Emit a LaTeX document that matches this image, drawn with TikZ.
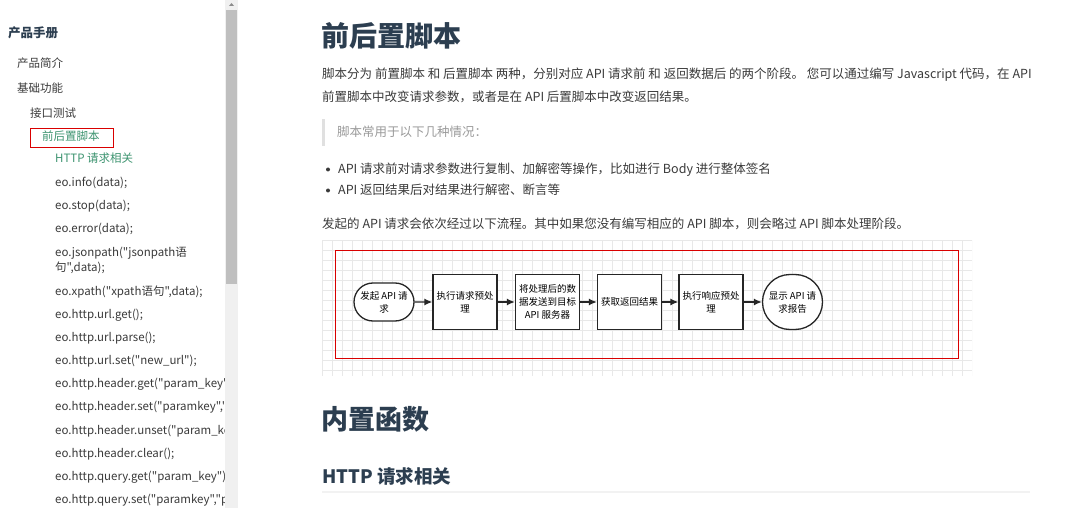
\documentclass[tikz,border=0pt]{standalone}
\usepackage{fontspec}
\setmainfont{Noto Sans CJK SC}[Ligatures=TeXOff]
\XeTeXlinebreaklocale "zh"
\XeTeXlinebreakskip=0pt plus 1pt
\usetikzlibrary{arrows.meta,shapes.misc}
\definecolor{hd}{HTML}{2C3E50}
\definecolor{tx}{HTML}{3A3A3A}
\definecolor{gr}{HTML}{3D9470}
\definecolor{qt}{HTML}{9A9A9A}
\tikzset{
 side/.style={anchor=base west,font=\fontsize{11.5}{13}\selectfont,text=tx,inner sep=0},
 body/.style={anchor=base west,font=\fontsize{12.5}{14}\selectfont,text=tx,inner sep=0},
 stepbox/.style={draw=black!85,line width=1.3pt,minimum width=64pt,minimum height=55pt,align=center,font=\fontsize{9.5}{13}\selectfont,fill=white,inner sep=1pt},
 term/.style={stepbox,rounded rectangle,minimum width=62pt},
 arr/.style={-{Latex[length=8pt,width=7pt]},line width=1.3pt,draw=black!85}
}
\begin{document}
\begin{tikzpicture}[x=1pt,y=-1pt]
\useasboundingbox (0,0) rectangle (1080,508);
\fill[white] (0,0) rectangle (1080,508);
% sidebar
\begin{scope}
\clip (0,0) rectangle (224,508);
\node[anchor=base west,inner sep=0,font=\bfseries\fontsize{12.5}{14}\selectfont,text=hd] (t0) at (8,38) {产品手册};
\node[side] (s1) at (17,68) {产品简介};
\node[side] (s2) at (17,93) {基础功能};
\node[side] (s3) at (30,118) {接口测试};
\node[side,text=gr] (s4) at (42,141) {前后置脚本};
\node[side,text=gr] (s5) at (55,163) {HTTP 请求相关};
\node[side] (e1) at (55,187) {eo.info(data);};
\node[side] (e2) at (55,210) {eo.stop(data);};
\node[side] (e3) at (55,233) {eo.error(data);};
\node[side] (e4) at (55,256) {eo.jsonpath("jsonpath语};
\node[side] (e4b) at (55,272) {句",data);};
\node[side] (e5) at (55,295) {eo.xpath("xpath语句",data);};
\node[side] (e6) at (55,318) {eo.http.url.get();};
\node[side] (e7) at (55,341) {eo.http.url.parse();};
\node[side] (e8) at (55,364) {eo.http.url.set("new\_url");};
\node[side] (e9) at (55,387) {eo.http.header.get("param\_key");};
\node[side] (e10) at (55,410) {eo.http.header.set("paramkey","param\_value");};
\node[side] (e11) at (55,434) {eo.http.header.unset("param\_key");};
\node[side] (e12) at (55,457) {eo.http.header.clear();};
\node[side] (e13) at (55,480) {eo.http.query.get("param\_key");};
\node[side] (e14) at (55,503) {eo.http.query.set("paramkey","param\_value");};
\end{scope}
\draw[red!85!black,line width=0.9pt] (30,128) rectangle (113,147);
% scrollbar
\fill[black!6] (225,0) rectangle (238,508);
\fill[black!25] (226,10) rectangle (237,284);
\fill[black!45] (229,6) -- (234,6) -- (231.5,3) -- cycle;
% main
\node[anchor=base west,inner sep=0,font=\bfseries\fontsize{28}{30}\selectfont,text=hd] (h1) at (321,47) {前后置脚本};
\node[body] (p1) at (322,79) {脚本分为 前置脚本 和 后置脚本 两种，分别对应 API 请求前 和 返回数据后 的两个阶段。 您可以通过编写 Javascript 代码，在 API};
\node[body] (p2) at (322,102) {前置脚本中改变请求参数，或者是在 API 后置脚本中改变返回结果。};
\fill[black!12] (322,119) rectangle (325,146);
\node[body,text=qt] (q) at (337,137) {脚本常用于以下几种情况：};
\fill[tx] (328,169.5) circle (2pt);
\fill[tx] (328,190.5) circle (2pt);
\node[body] (b1) at (338,174) {API 请求前对请求参数进行复制、加解密等操作，比如进行 Body 进行整体签名};
\node[body] (b2) at (338,195) {API 返回结果后对结果进行解密、断言等};
\node[body] (p3) at (322,229) {发起的 API 请求会依次经过以下流程。其中如果您没有编写相应的 API 脚本，则会略过 API 脚本处理阶段。};
% diagram grid
\begin{scope}
\clip (322,240) rectangle (972,376);
\foreach \x in {322,332,...,972} \draw[black!9,line width=0.4pt] (\x,240) -- (\x,376);
\foreach \y in {240,250,...,376} \draw[black!9,line width=0.4pt] (322,\y) -- (972,\y);
\end{scope}
\draw[red!85!black,line width=0.9pt] (335,250) rectangle (958,358);
\node[term,minimum height=38pt] (n1) at (384,302) {发起 API 请\\求};
\node[stepbox] (n2) at (465,302) {执行请求预处\\理};
\node[stepbox] (n3) at (547.5,302) {将处理后的数\\据发送到目标\\API 服务器};
\node[stepbox] (n4) at (629.5,302) {获取返回结果};
\node[stepbox] (n5) at (711,302) {执行响应预处\\理};
\node[term] (n6) at (792.5,302) {显示 API 请\\求报告};
\foreach \a/\b in {n1/n2,n2/n3,n3/n4,n4/n5,n5/n6} \draw[arr] (\a) -- (\b);
% lower headings
\node[anchor=base west,inner sep=0,font=\bfseries\fontsize{27}{30}\selectfont,text=hd] (h2) at (321,429) {内置函数};
\node[anchor=base west,inner sep=0,font=\bfseries\fontsize{18.5}{20}\selectfont,text=hd] (h3) at (322,483) {HTTP 请求相关};
\fill[black!5] (322,491) rectangle (1030,493);
\end{tikzpicture}
\end{document}
